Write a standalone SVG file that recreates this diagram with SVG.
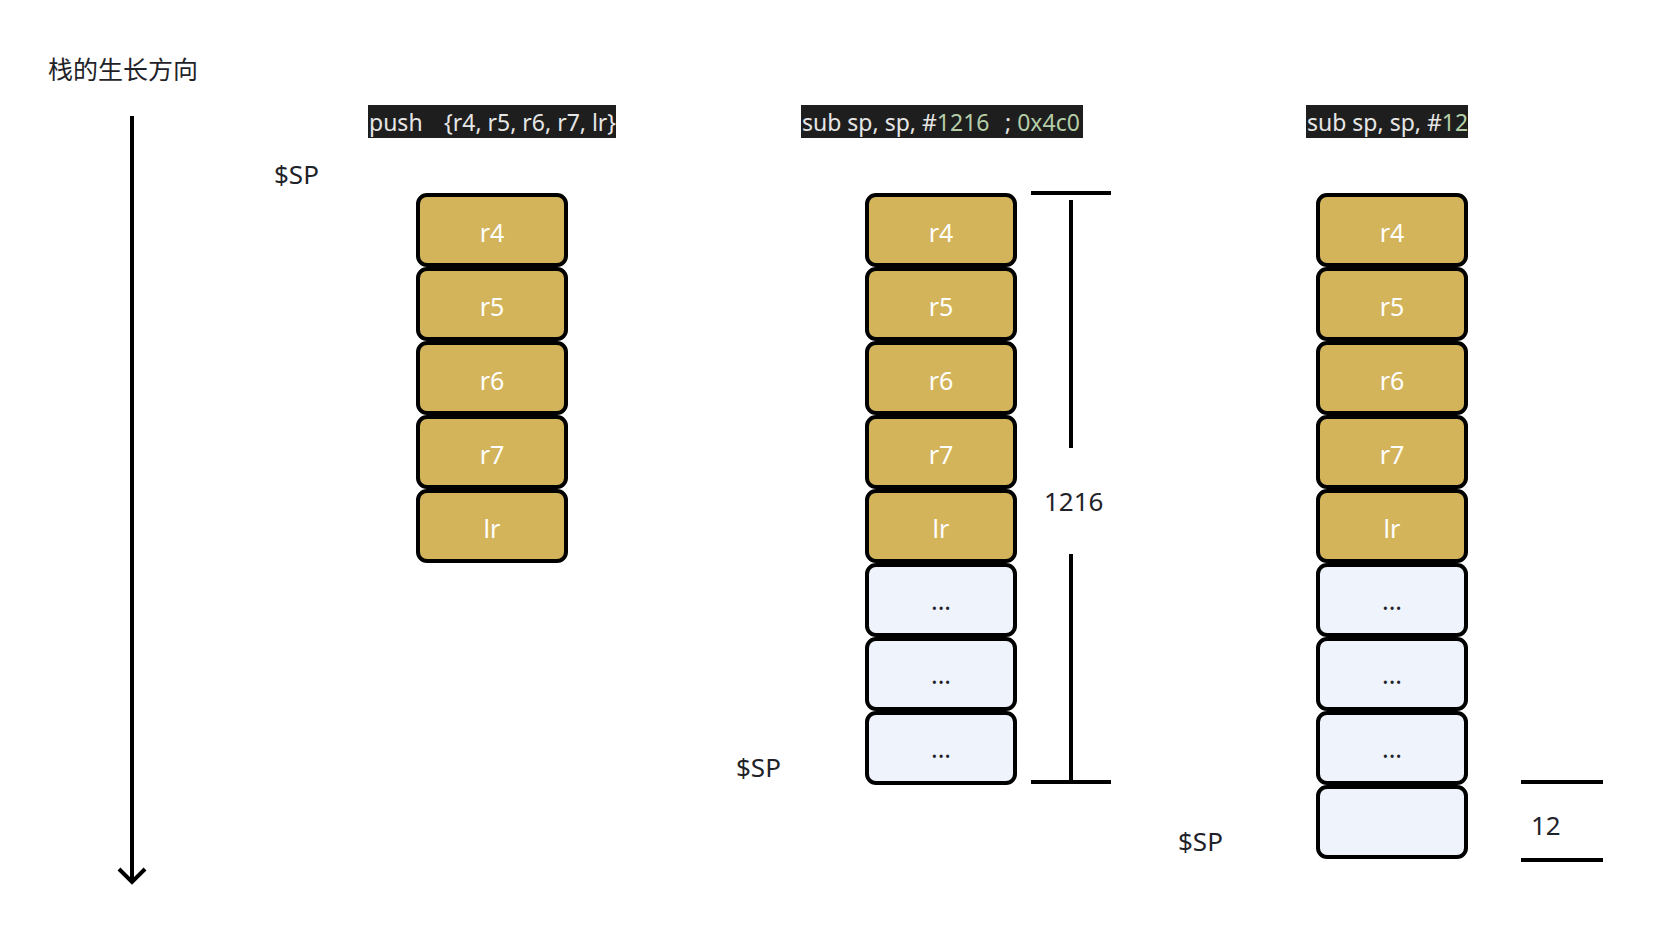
<svg xmlns="http://www.w3.org/2000/svg" width="1654" height="950" viewBox="0 0 1654 950">
<style>
text{font-family:"Noto Sans","Open Sans","Noto Sans CJK SC",sans-serif;fill:#1f2329}
.g rect{fill:#d4b45a;stroke:#000;stroke-width:4}
.b rect{fill:#eef3fc;stroke:#000;stroke-width:4}
.n text{font-size:25px;text-anchor:middle;dominant-baseline:central}
.g text{fill:#fff}
.code rect{fill:#1e1e1e}
.code text{font-size:23px;fill:#e6e6e6}
.lbl{font-size:26px}
.ln{stroke:#000;stroke-width:4;fill:none}
</style>
<rect width="1654" height="950" fill="#fff"/>
<text x="48" y="79" class="lbl" style="font-size:25px;font-family:'Noto Sans CJK SC',sans-serif">栈的生长方向</text>
<g id="connectors">
<line class="ln" x1="132" y1="116" x2="132" y2="882"/>
<polyline class="ln" points="119,869 132,882 145,869"/>
<line class="ln" x1="1031" y1="193" x2="1111" y2="193"/>
<line class="ln" x1="1031" y1="782" x2="1111" y2="782"/>
<line class="ln" x1="1071" y1="200" x2="1071" y2="448"/>
<line class="ln" x1="1071" y1="554" x2="1071" y2="782"/>
<line class="ln" x1="1521" y1="782" x2="1603" y2="782"/>
<line class="ln" x1="1521" y1="860" x2="1603" y2="860"/>
</g>
<g class="code" id="code1"><rect x="368" y="105" width="248" height="33"/><text x="369" y="131">push <tspan x="444">{r4, r5, r6, r7, lr}</tspan></text></g>
<g class="code" id="code2"><rect x="801" y="105" width="282" height="33"/><text x="802" y="131">sub sp, sp, #<tspan fill="#b5cea8">1216</tspan> <tspan x="1005">; </tspan><tspan fill="#b5cea8">0x4c0</tspan></text></g>
<g class="code" id="code3"><rect x="1306" y="105" width="162" height="33"/><text x="1307" y="131">sub sp, sp, #<tspan fill="#b5cea8">12</tspan></text></g>
<text x="274" y="184" class="lbl">$SP</text>
<text x="736" y="777" class="lbl">$SP</text>
<text x="1178" y="851" class="lbl">$SP</text>
<text x="1044" y="511" class="lbl">1216</text>
<text x="1531" y="835" class="lbl">12</text>
<g id="col1">
<g class="n g" id="c1r4"><rect x="418" y="195" width="148" height="70" rx="9"/><text x="492" y="232">r4</text></g>
<g class="n g" id="c1r5"><rect x="418" y="269" width="148" height="70" rx="9"/><text x="492" y="306">r5</text></g>
<g class="n g" id="c1r6"><rect x="418" y="343" width="148" height="70" rx="9"/><text x="492" y="380">r6</text></g>
<g class="n g" id="c1r7"><rect x="418" y="417" width="148" height="70" rx="9"/><text x="492" y="454">r7</text></g>
<g class="n g" id="c1lr"><rect x="418" y="491" width="148" height="70" rx="9"/><text x="492" y="528">lr</text></g>
</g>
<g id="col2">
<g class="n g" id="c2r4"><rect x="867" y="195" width="148" height="70" rx="9"/><text x="941" y="232">r4</text></g>
<g class="n g" id="c2r5"><rect x="867" y="269" width="148" height="70" rx="9"/><text x="941" y="306">r5</text></g>
<g class="n g" id="c2r6"><rect x="867" y="343" width="148" height="70" rx="9"/><text x="941" y="380">r6</text></g>
<g class="n g" id="c2r7"><rect x="867" y="417" width="148" height="70" rx="9"/><text x="941" y="454">r7</text></g>
<g class="n g" id="c2lr"><rect x="867" y="491" width="148" height="70" rx="9"/><text x="941" y="528">lr</text></g>
<g class="n b" id="c2d1"><rect x="867" y="565" width="148" height="70" rx="9"/><text x="941" y="600">...</text></g>
<g class="n b" id="c2d2"><rect x="867" y="639" width="148" height="70" rx="9"/><text x="941" y="674">...</text></g>
<g class="n b" id="c2d3"><rect x="867" y="713" width="148" height="70" rx="9"/><text x="941" y="748">...</text></g>
</g>
<g id="col3">
<g class="n g" id="c3r4"><rect x="1318" y="195" width="148" height="70" rx="9"/><text x="1392" y="232">r4</text></g>
<g class="n g" id="c3r5"><rect x="1318" y="269" width="148" height="70" rx="9"/><text x="1392" y="306">r5</text></g>
<g class="n g" id="c3r6"><rect x="1318" y="343" width="148" height="70" rx="9"/><text x="1392" y="380">r6</text></g>
<g class="n g" id="c3r7"><rect x="1318" y="417" width="148" height="70" rx="9"/><text x="1392" y="454">r7</text></g>
<g class="n g" id="c3lr"><rect x="1318" y="491" width="148" height="70" rx="9"/><text x="1392" y="528">lr</text></g>
<g class="n b" id="c3d1"><rect x="1318" y="565" width="148" height="70" rx="9"/><text x="1392" y="600">...</text></g>
<g class="n b" id="c3d2"><rect x="1318" y="639" width="148" height="70" rx="9"/><text x="1392" y="674">...</text></g>
<g class="n b" id="c3d3"><rect x="1318" y="713" width="148" height="70" rx="9"/><text x="1392" y="748">...</text></g>
<g class="n b" id="c3e"><rect x="1318" y="787" width="148" height="70" rx="9"/></g>
</g>
</svg>
